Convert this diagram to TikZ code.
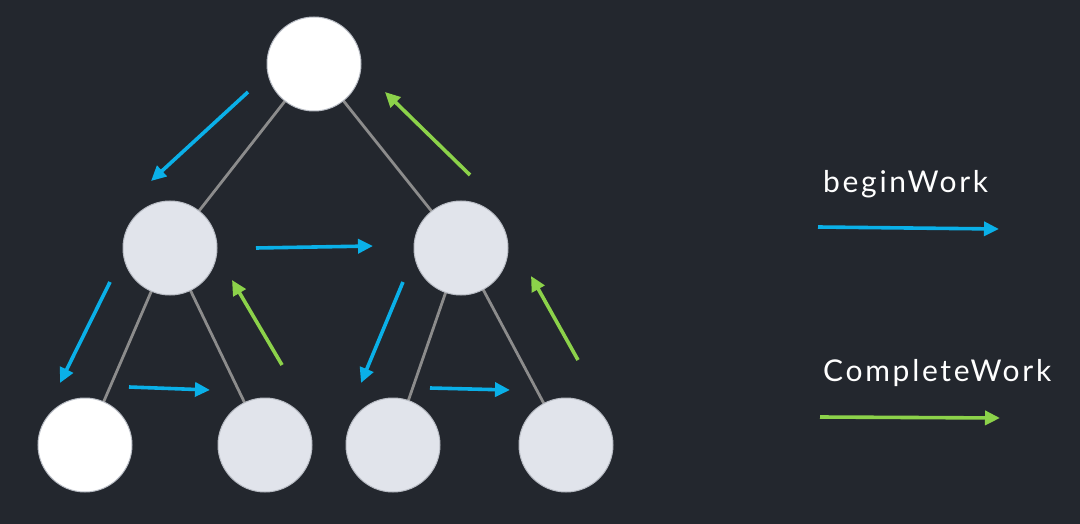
\documentclass[tikz,border=0pt]{standalone}
\usepackage{fontspec}
\setmainfont{Lato}
\usetikzlibrary{arrows.meta}
\definecolor{bg}{HTML}{23272E}
\definecolor{bluea}{HTML}{0AB0E8}
\definecolor{greena}{HTML}{8CD24A}
\definecolor{edgec}{HTML}{8C8C8C}
\definecolor{nodeg}{HTML}{E1E4EB}
\definecolor{nodeo}{HTML}{B8BCC4}
\begin{document}
\begin{tikzpicture}[x=1pt,y=-1pt,
  fnode/.style={circle,draw=nodeo,line width=1pt,minimum size=94pt,inner sep=0pt},
  whitenode/.style={fnode,fill=white},
  graynode/.style={fnode,fill=nodeg},
  treeedge/.style={draw=edgec,line width=2.8pt},
  flow/.style={line width=3.6pt,-{Triangle[length=15pt,width=14pt]}},
  beginarrow/.style={flow,draw=bluea,fill=bluea},
  completearrow/.style={flow,draw=greena,fill=greena},
  legendtext/.style={text=white,font=\fontsize{30}{35}\selectfont\addfontfeature{LetterSpace=9},anchor=base west,inner sep=0pt}]
\fill[bg] (0,0) rectangle (1080,524);
\useasboundingbox (0,0) rectangle (1080,524);
% edges first (behind nodes)
\coordinate (pR) at (314,64);
\coordinate (pL) at (170,248);
\coordinate (pRt) at (461,248);
\coordinate (pLL) at (85,445);
\coordinate (pLR) at (265,445);
\coordinate (pRL) at (393,445);
\coordinate (pRR) at (566,445);
\draw[treeedge] (pR) -- (pL);
\draw[treeedge] (pR) -- (pRt);
\draw[treeedge] (pL) -- (pLL);
\draw[treeedge] (pL) -- (pLR);
\draw[treeedge] (pRt) -- (pRL);
\draw[treeedge] (pRt) -- (pRR);
\node[whitenode] (root) at (pR) {};
\node[graynode] (left) at (pL) {};
\node[graynode] (right) at (pRt) {};
\node[whitenode] (ll) at (pLL) {};
\node[graynode] (lr) at (pLR) {};
\node[graynode] (rl) at (pRL) {};
\node[graynode] (rr) at (pRR) {};
% flow arrows
\coordinate (a1s) at (248,92);  \coordinate (a1e) at (151,181);
\coordinate (a2s) at (470,175); \coordinate (a2e) at (385,92);
\coordinate (a3s) at (256,248); \coordinate (a3e) at (373,246);
\coordinate (a4s) at (110,282); \coordinate (a4e) at (60,383);
\coordinate (a5s) at (129,387); \coordinate (a5e) at (210,390);
\coordinate (a6s) at (282,365); \coordinate (a6e) at (232,280);
\coordinate (a7s) at (403,282); \coordinate (a7e) at (361,383);
\coordinate (a8s) at (430,388); \coordinate (a8e) at (510,390);
\coordinate (a9s) at (578,360); \coordinate (a9e) at (531,276);
\draw[beginarrow] (a1s) -- (a1e);
\draw[completearrow] (a2s) -- (a2e);
\draw[beginarrow] (a3s) -- (a3e);
\draw[beginarrow] (a4s) -- (a4e);
\draw[beginarrow] (a5s) -- (a5e);
\draw[completearrow] (a6s) -- (a6e);
\draw[beginarrow] (a7s) -- (a7e);
\draw[beginarrow] (a8s) -- (a8e);
\draw[completearrow] (a9s) -- (a9e);
% legend
\node[legendtext] (lbegin) at (823,193) {beginWork};
\node[legendtext] (lcomplete) at (823,381) {CompleteWork};
\coordinate (lb1) at (818,227); \coordinate (lb2) at (999,229);
\coordinate (lc1) at (820,417); \coordinate (lc2) at (1000,418);
\draw[beginarrow] (lb1) -- (lb2);
\draw[completearrow] (lc1) -- (lc2);
\end{tikzpicture}
\end{document}
